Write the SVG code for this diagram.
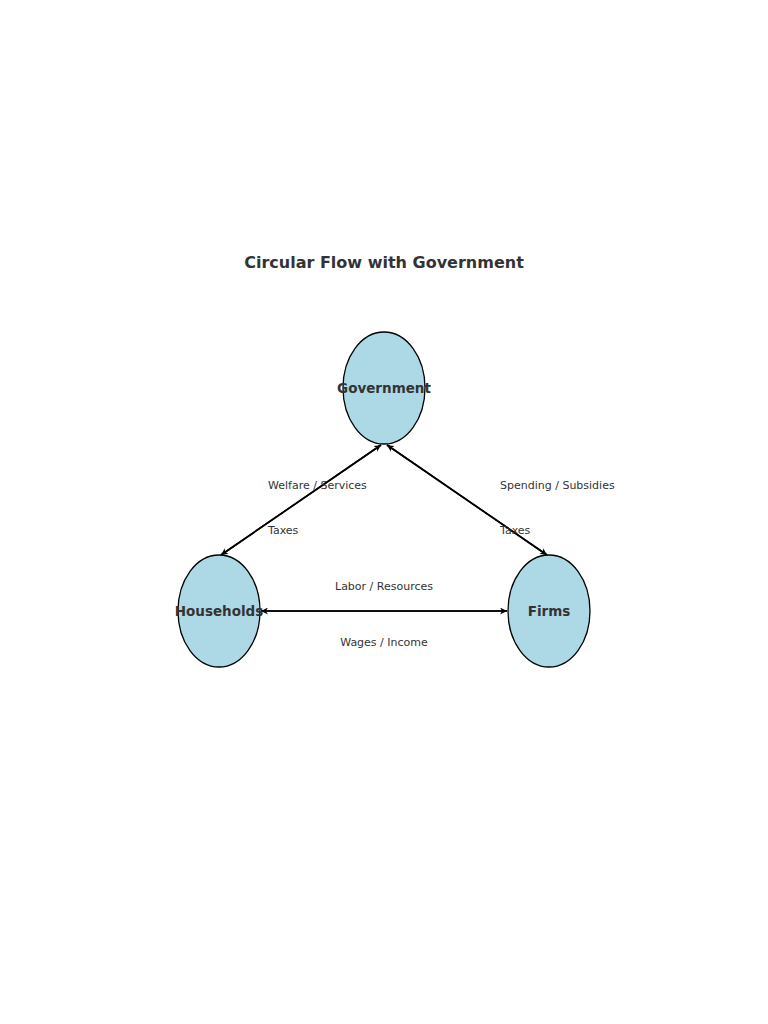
<svg xmlns="http://www.w3.org/2000/svg" width="768" height="1024" viewBox="0 0 768 1024">
<style>
.n{fill:#add8e6;stroke:#000;stroke-width:1.3}
.nt{font-family:"DejaVu Sans",sans-serif;font-weight:bold;font-size:13.5px;fill:#333;text-anchor:middle}
.l{font-family:"DejaVu Sans",sans-serif;font-size:11px;fill:#333}
.c{stroke:#000;stroke-width:1.6;fill:none;marker-end:url(#a)}
</style>
<defs><marker id="a" viewBox="0 0 10 10" refX="10" refY="5" markerWidth="7" markerHeight="7" orient="auto" markerUnits="userSpaceOnUse"><path d="M0,0L10,5L0,10L3,5Z" fill="#000"/></marker></defs>
<rect width="768" height="1024" fill="#fff"/>
<text x="384" y="268" font-family="DejaVu Sans,sans-serif" font-weight="bold" font-size="16px" fill="#333" text-anchor="middle">Circular Flow with Government</text>
<g id="connectors">
<line class="c" x1="221" y1="555" x2="381" y2="445"/>
<line class="c" x1="381" y1="445" x2="221" y2="555"/>
<line class="c" x1="547" y1="555" x2="387" y2="445"/>
<line class="c" x1="387" y1="445" x2="547" y2="555"/>
<line class="c" x1="261" y1="611" x2="507" y2="611"/>
<line class="c" x1="507" y1="611" x2="261" y2="611"/>
</g>
<g id="government"><ellipse class="n" cx="384" cy="388" rx="41" ry="56"/><text class="nt" x="384" y="393">Government</text></g>
<g id="households"><ellipse class="n" cx="219" cy="611" rx="41" ry="56"/><text class="nt" x="219" y="616">Households</text></g>
<g id="firms"><ellipse class="n" cx="549" cy="611" rx="41" ry="56"/><text class="nt" x="549" y="616">Firms</text></g>
<g id="labels">
<text class="l" x="268" y="489">Welfare / Services</text>
<text class="l" x="268" y="534">Taxes</text>
<text class="l" x="500" y="489">Spending / Subsidies</text>
<text class="l" x="500" y="534">Taxes</text>
<text class="l" x="384" y="590" text-anchor="middle">Labor / Resources</text>
<text class="l" x="384" y="646" text-anchor="middle">Wages / Income</text>
</g>
</svg>
